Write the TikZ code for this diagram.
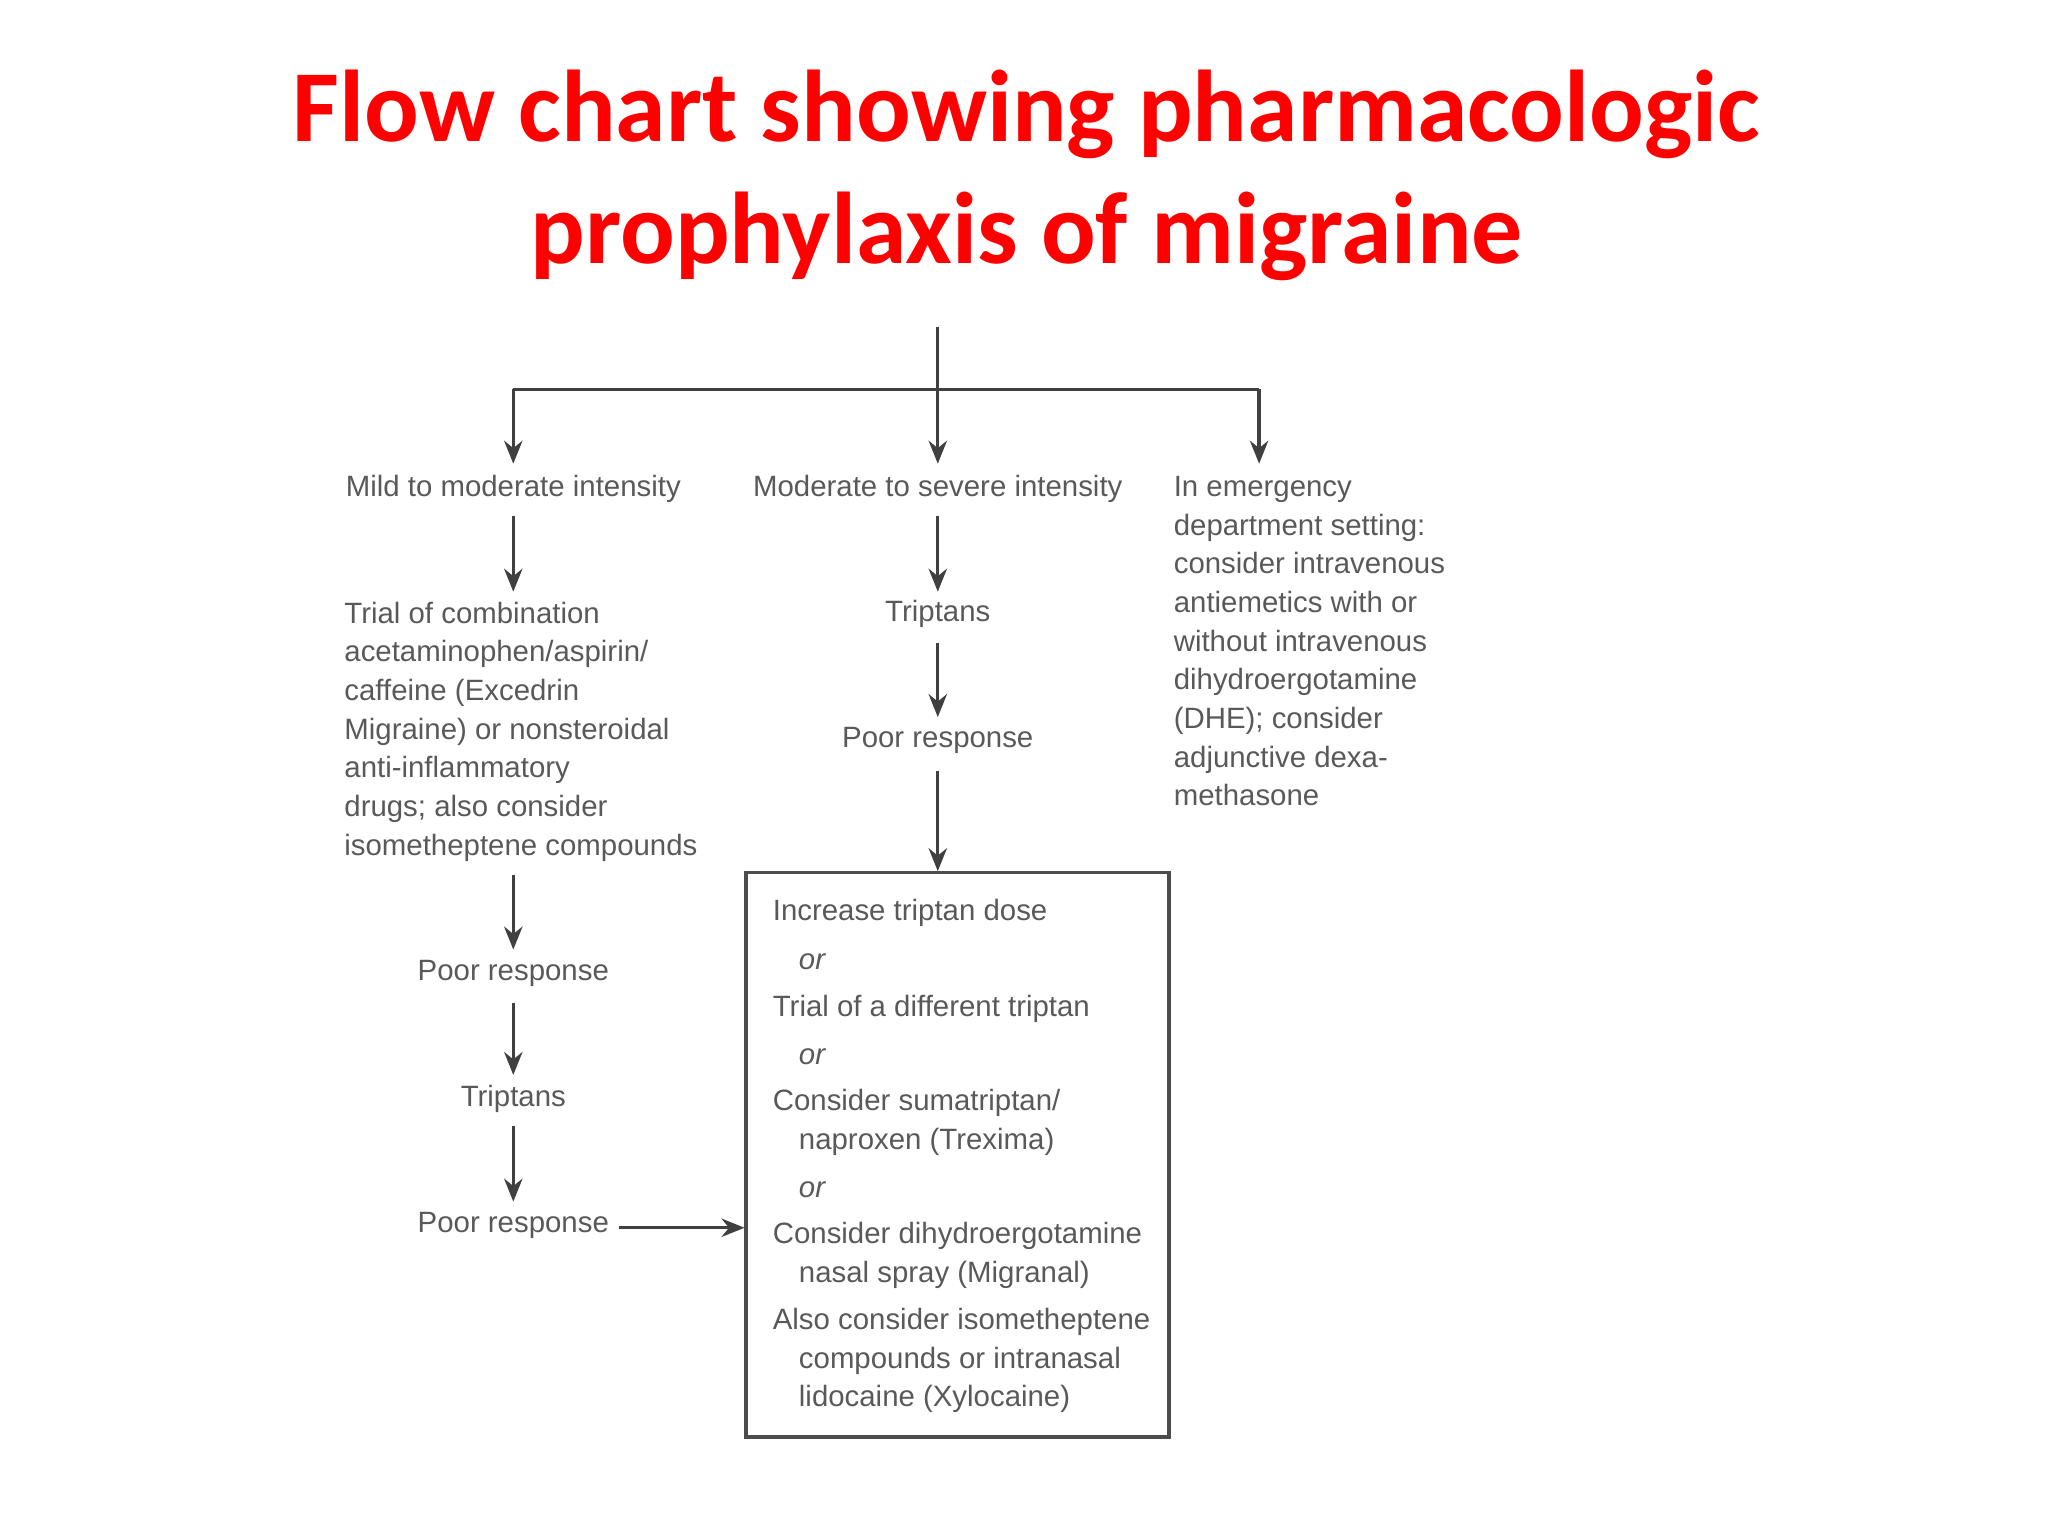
\documentclass[tikz,border=0pt]{standalone}
\usepackage{fontspec}
\setmainfont{Liberation Sans}
\newfontfamily\titlefont{Carlito}
\usetikzlibrary{arrows.meta}
\begin{document}
\begin{tikzpicture}[x=0.01cm,y=-0.01cm,
  txt/.style={font=\fontsize{6.4}{8.42}\selectfont, text=black!65, inner sep=0pt, align=left},
  ctr/.style={txt, align=center},
  bl/.style={txt, anchor=base west},
  arr/.style={-{Stealth[length=5pt,width=4pt]}, black!75, line width=0.7pt},
  ln/.style={black!75, line width=0.7pt}]
\useasboundingbox (0,0) rectangle (1568,1176);
\node[font=\titlefont\bfseries\fontsize{22.2}{26.5}\selectfont, text=red, align=center] (title) at (786,134) {Flow chart showing pharmacologic\\prophylaxis of migraine};
\coordinate (top) at (718,250);
\coordinate (hl) at (393,298);
\coordinate (hr) at (964,298);
\node[ctr] (mild) at (393,374) {Mild to moderate intensity};
\node[ctr] (mod) at (718,374) {Moderate to severe intensity};
\node[txt, anchor=north west] (emg) at (898,364) {In emergency\\department setting:\\consider intravenous\\antiemetics with or\\without intravenous\\dihydroergotamine\\(DHE); consider\\adjunctive dexa-\\methasone};
\node[txt, anchor=north west] (trial) at (263,460) {Trial of combination\\acetaminophen/aspirin/\\caffeine (Excedrin\\Migraine) or nonsteroidal\\anti-inflammatory\\drugs; also consider\\isometheptene compounds};
\node[ctr] (pr1) at (393,745) {Poor response};
\node[ctr] (tr1) at (393,841) {Triptans};
\node[ctr] (pr2) at (393,938) {Poor response};
\node[ctr] (tr2) at (718,470) {Triptans};
\node[ctr] (pr3) at (718,567) {Poor response};
\draw[black!70, line width=0.8pt] (571,668) rectangle (895,1100);
\coordinate (boxtop) at (718,667);
\coordinate (boxleft) at (570,940);
\node[bl] (b1) at (591,705) {Increase triptan dose};
\node[bl] (b2) at (611,742) {\textit{or}};
\node[bl] (b3) at (591,778) {Trial of a different triptan};
\node[bl] (b4) at (611,815) {\textit{or}};
\node[bl] (b5) at (591,850) {Consider sumatriptan/};
\node[bl] (b6) at (611,880) {naproxen (Trexima)};
\node[bl] (b7) at (611,917) {\textit{or}};
\node[bl] (b8) at (591,952) {Consider dihydroergotamine};
\node[bl] (b9) at (611,982) {nasal spray (Migranal)};
\node[bl] (b10) at (591,1018) {Also consider isometheptene};
\node[bl] (b11) at (611,1048) {compounds or intranasal};
\node[bl] (b12) at (611,1077) {lidocaine (Xylocaine)};
\draw[arr] (top) -- (718,355);
\draw[ln] (hl) -- (hr);
\draw[arr] (hl) -- (393,355);
\draw[arr] (hr) -- (964,355);
\draw[arr] (393,395) -- (393,453);
\draw[arr] (393,670) -- (393,727);
\draw[arr] (393,768) -- (393,823);
\draw[arr] (393,862) -- (393,920);
\draw[arr] (474,940) -- (boxleft);
\draw[arr] (718,395) -- (718,453);
\draw[arr] (718,492) -- (718,549);
\draw[arr] (718,590) -- (boxtop);
\end{tikzpicture}
\end{document}
